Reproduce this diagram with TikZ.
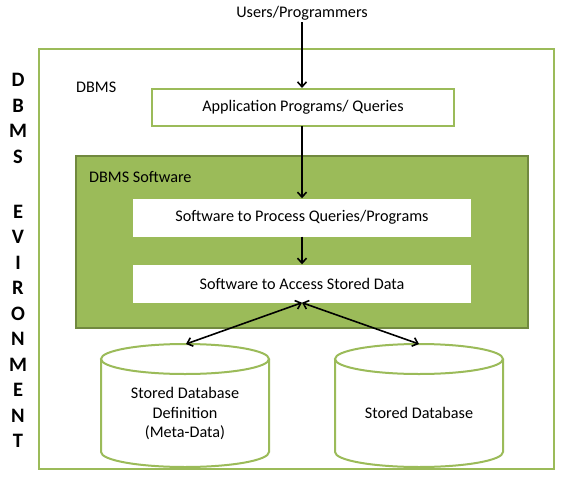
\documentclass[tikz,border=0pt]{standalone}
\usepackage{fontspec}
\setmainfont{Carlito}
\usetikzlibrary{arrows.meta}
\definecolor{lgreen}{HTML}{9BBB59}
\definecolor{dgreen}{HTML}{71893F}
\begin{document}
\begin{tikzpicture}[x=1pt,y=-1pt,
  txt/.style={font=\fontsize{16.2}{19}\selectfont, inner sep=0pt},
  wbox/.style={draw=lgreen, line width=2pt, fill=white, minimum height=37pt, font=\fontsize{16.2}{19}\selectfont},
  ibox/.style={fill=white, minimum height=38pt, minimum width=338pt, font=\fontsize{16.2}{19}\selectfont},
  arr/.style={line width=1.6pt, -{Straight Barb[length=5pt,width=9pt]}},
  darr/.style={line width=1.6pt, {Straight Barb[length=5pt,width=9pt]}-{Straight Barb[length=5pt,width=9pt]}},
  cyl/.style={draw=lgreen, line width=2pt, fill=white}
]
\useasboundingbox (0,0) rectangle (584,482);
% outer environment box
\draw[lgreen, line width=2pt] (39,49) rectangle (554,469);
% vertical label
\node[anchor=north, inner sep=0pt, align=center, font=\bfseries\fontsize{20.5}{25.5}\selectfont] (env) at (18,73.5)
  {D\\B\\M\\S\\[29.5pt]E\\V\\I\\R\\O\\N\\M\\E\\N\\T};
% top text
\node[txt] (users) at (302,13) {Users/Programmers};
\node[txt, anchor=west] (dbms) at (76,87) {DBMS};
\node[wbox, minimum width=302pt] (app) at (303,107.5) {Application Programs/ Queries};
% DBMS software box
\draw[fill=lgreen, draw=dgreen, line width=2pt] (76,156) rectangle (528,328);
\node[txt, anchor=west] (soft) at (89,177) {DBMS Software};
\node[ibox] (proc) at (302,217.5) {Software to Process Queries/Programs};
\node[ibox] (acc) at (302,283.5) {Software to Access Stored Data};
% cylinders
\path[cyl] (101,359) -- (101,452) arc[start angle=180, end angle=360, x radius=84, y radius=-15] -- (269,359);
\draw[cyl] (185,359) ellipse[x radius=84, y radius=15];
\path[cyl] (335,359) -- (335,452) arc[start angle=180, end angle=360, x radius=84, y radius=-15] -- (503,359);
\draw[cyl] (419,359) ellipse[x radius=84, y radius=15];
\coordinate (cyl1) at (186,344);
\coordinate (cyl2) at (419,344);
\node[txt, align=center, font=\fontsize{16.2}{19.5}\selectfont] (meta) at (185,413.5) {Stored Database\\Definition\\(Meta-Data)};
\node[txt] (db) at (419,413) {Stored Database};
% arrows
\draw[arr] (users.south |- 0,22) -- (users.south |- app.north);
\draw[arr] (302,126) -- (proc.north);
\draw[arr] (proc.south) -- (acc.north);
\draw[darr] (cyl1) -- (acc.south);
\draw[darr] (acc.south) -- (cyl2);
\end{tikzpicture}
\end{document}
